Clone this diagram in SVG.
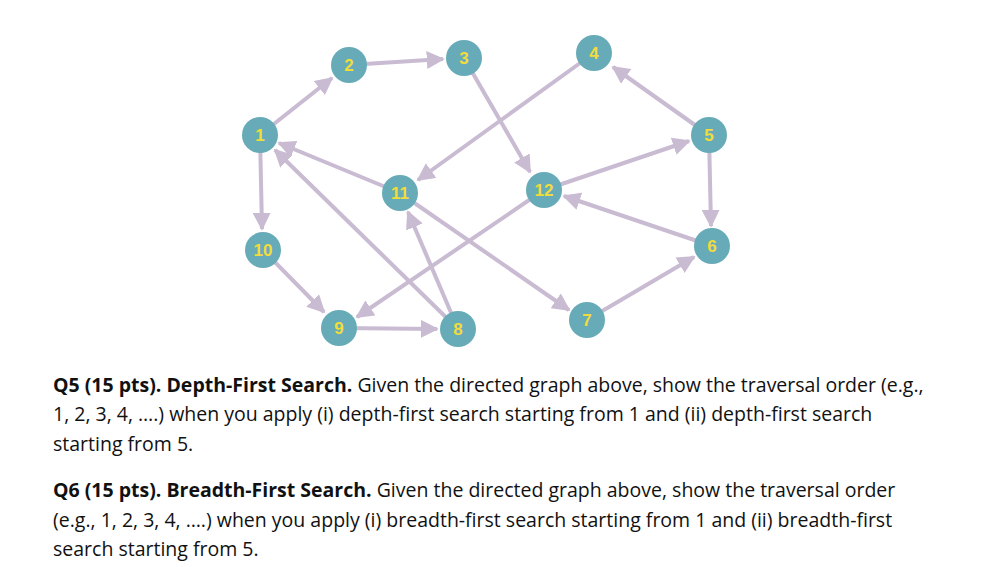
<svg xmlns="http://www.w3.org/2000/svg" width="990" height="567" viewBox="0 0 990 567">
<style>
.n circle{fill:#67abb8}
.n text{fill:#f2dc3c;font-family:"Liberation Sans",Arial,sans-serif;font-weight:bold;font-size:17px;text-anchor:middle}
.e line{stroke:#c9bbd2;stroke-width:4;marker-end:url(#a)}
.t{font-family:"Open Sans","Liberation Sans",sans-serif;font-size:19.5px;fill:#111}
.b{font-weight:bold}
</style>
<defs><marker id="a" viewBox="0 0 10 10" refX="9" refY="5" markerWidth="4.5" markerHeight="4.5" orient="auto" markerUnits="strokeWidth"><path d="M0,0L10,5L0,10z" fill="#c9bbd2"/></marker></defs>
<rect width="990" height="567" fill="#fff"/>
<g class="e">
<line x1="260" y1="135" x2="332" y2="78"/>
<line x1="349" y1="65" x2="443" y2="59"/>
<line x1="464" y1="58" x2="530" y2="172"/>
<line x1="594" y1="53" x2="418" y2="180"/>
<line x1="709" y1="135" x2="613" y2="67"/>
<line x1="709" y1="135" x2="711" y2="226"/>
<line x1="544" y1="190" x2="689" y2="141"/>
<line x1="712" y1="246" x2="564" y2="196"/>
<line x1="587" y1="320" x2="694" y2="257"/>
<line x1="400" y1="193" x2="569" y2="310"/>
<line x1="400" y1="193" x2="279" y2="143"/>
<line x1="458" y1="329" x2="275" y2="150"/>
<line x1="458" y1="329" x2="408" y2="212"/>
<line x1="544" y1="190" x2="357" y2="317"/>
<line x1="339" y1="328" x2="437" y2="329"/>
<line x1="263" y1="250" x2="324" y2="312"/>
<line x1="260" y1="135" x2="262" y2="229"/>
</g>
<g class="n" id="n1"><circle cx="260" cy="135" r="18"/><text x="260" y="141">1</text></g>
<g class="n" id="n2"><circle cx="349" cy="65" r="18"/><text x="349" y="71">2</text></g>
<g class="n" id="n3"><circle cx="464" cy="58" r="18"/><text x="464" y="64">3</text></g>
<g class="n" id="n4"><circle cx="594" cy="53" r="18"/><text x="594" y="59">4</text></g>
<g class="n" id="n5"><circle cx="709" cy="135" r="18"/><text x="709" y="141">5</text></g>
<g class="n" id="n6"><circle cx="712" cy="246" r="18"/><text x="712" y="252">6</text></g>
<g class="n" id="n7"><circle cx="587" cy="320" r="18"/><text x="587" y="326">7</text></g>
<g class="n" id="n8"><circle cx="458" cy="329" r="18"/><text x="458" y="335">8</text></g>
<g class="n" id="n9"><circle cx="339" cy="328" r="18"/><text x="339" y="334">9</text></g>
<g class="n" id="n10"><circle cx="263" cy="250" r="18"/><text x="263" y="256">10</text></g>
<g class="n" id="n11"><circle cx="400" cy="193" r="18"/><text x="400" y="199">11</text></g>
<g class="n" id="n12"><circle cx="544" cy="190" r="18"/><text x="544" y="196">12</text></g>
<text class="t" x="53" y="392"><tspan class="b">Q5 (15 pts). Depth-First Search.</tspan> Given the directed graph above, show the traversal order (e.g.,</text>
<text class="t" x="53" y="421">1, 2, 3, 4, ….) when you apply (i) depth-first search starting from 1 and (ii) depth-first search</text>
<text class="t" x="53" y="451">starting from 5.</text>
<text class="t" x="53" y="497"><tspan class="b">Q6 (15 pts). Breadth-First Search.</tspan> Given the directed graph above, show the traversal order</text>
<text class="t" x="53" y="527">(e.g., 1, 2, 3, 4, ….) when you apply (i) breadth-first search starting from 1 and (ii) breadth-first</text>
<text class="t" x="53" y="556">search starting from 5.</text>
</svg>
